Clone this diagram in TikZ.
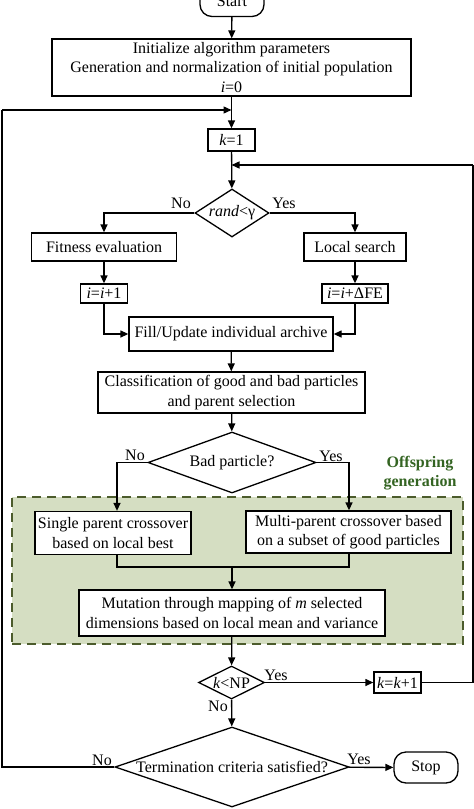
\documentclass[tikz,border=0pt]{standalone}
\usepackage{fontspec}
\setmainfont{Liberation Serif}
\usetikzlibrary{arrows.meta,shapes.geometric}
\definecolor{offfill}{RGB}{213,222,194}
\definecolor{offline}{RGB}{76,92,44}
\definecolor{offtext}{RGB}{52,100,34}
\begin{document}
\begin{tikzpicture}[x=1pt,y=-1pt,
  font=\fontsize{16}{19.5}\selectfont,
  line width=1.3pt,
  box/.style={draw, fill=white, align=center, inner sep=0pt},
  rbox/.style={draw, fill=white, rounded corners=12pt, inner sep=0pt},
  dia/.style={draw, diamond, inner sep=0pt, fill=white},
  dtext/.style={inner sep=0pt, align=center},
  lbl/.style={inner sep=0pt},
  arr/.style={-{Triangle[length=8pt,width=7pt]}}]
\path[use as bounding box, clip] (0,0) rectangle (474,809);

% green region
\node[draw=offline, fill=offfill, dash pattern=on 9pt off 6pt, line width=2.2pt,
      minimum width=451, minimum height=147, inner sep=0pt] (grp) at (237.5,570.5) {};
\node[lbl, text=offtext, align=center, font=\fontsize{16}{19.5}\selectfont\bfseries] (grplbl) at (420,473) {Offspring\\generation};

% nodes
\node[rbox, minimum width=64, minimum height=31] (start) at (232,1) {Start};
\node[box, minimum width=359, minimum height=57] (init) at (231.5,67.5)
  {Initialize algorithm parameters\\Generation and normalization of initial population\\\textit{i}=0};
\node[box, minimum width=47, minimum height=22] (k1) at (231.5,140) {\textit{k}=1};
\node[dia, minimum width=74, minimum height=48] (rand) at (232,213) {};
\node[dtext] (randt) at (rand) {\textit{rand}<γ};
\node[box, minimum width=145, minimum height=28] (fit) at (104,247) {Fitness evaluation};
\node[box, minimum width=102, minimum height=28] (ls) at (355,247) {Local search};
\node[box, minimum width=47, minimum height=19] (ii1) at (104,293.5) {\textit{i}=\textit{i}+1};
\node[box, minimum width=66, minimum height=19] (ife) at (355,293.5) {\textit{i}=\textit{i}+ΔFE};
\node[box, minimum width=204, minimum height=34] (fill) at (231,334) {Fill/Update individual archive};
\node[box, minimum width=267, minimum height=41] (cls) at (231.5,392.5)
  {Classification of good and bad particles\\and parent selection};
\node[dia, minimum width=168, minimum height=61] (bad) at (232,462.5) {};
\node[dtext] (badt) at (bad) {Bad particle?};
\node[box, minimum width=156, minimum height=43] (single) at (113,533)
  {Single parent crossover\\based on local best};
\node[box, minimum width=205, minimum height=42] (multi) at (348.5,532)
  {Multi-parent crossover based\\on a subset of good particles};
\node[box, minimum width=306, minimum height=46] (mut) at (232,613)
  {Mutation through mapping of \textit{m} selected\\dimensions based on local mean and variance};
\node[dia, minimum width=66, minimum height=33] (knp) at (231.5,682.5) {};
\node[dtext] (knpt) at (knp) {\textit{k}<NP};
\node[box, minimum width=47, minimum height=21] (kk1) at (397.5,682.5) {\textit{k}=\textit{k}+1};
\node[dia, minimum width=234, minimum height=80] (term) at (232,767) {};
\node[dtext] (termt) at (term) {Termination criteria satisfied?};
\node[rbox, minimum width=64, minimum height=31] (stop) at (426,767.5) {Stop};

% helper coordinates
\coordinate (lx) at (2,0);
\coordinate (rx) at (473,0);
\coordinate (j1) at (231.5,110);
\coordinate (j2) at (231.5,165);
\coordinate (sx) at (117,0);
\coordinate (mx) at (349,0);
\coordinate (mrg) at (232,567);

% connectors
\draw[arr] (start) -- (init);
\draw[arr] (init) -- (k1);
\draw[arr] (k1) -- (rand);
\draw[arr] (rand.west) -| (fit.north);
\draw[arr] (rand.east) -| (ls.north);
\draw[arr] (fit) -- (ii1);
\draw[arr] (ls) -- (ife);
\draw[arr] (ii1.south) |- (fill.west);
\draw[arr] (ife.south) |- (fill.east);
\draw[arr] (fill) -- (cls);
\draw[arr] (cls) -- (bad);
\draw[arr] (bad.west) -| (single.north -| sx);
\draw[arr] (bad.east) -| (multi.north -| mx);
\draw (single.south -| sx) |- (mrg) -| (multi.south -| mx);
\draw[arr] (mrg) -- (mut.north);
\draw[arr] (mut) -- (knp);
\draw[arr] (knp) -- (kk1);
\draw (kk1.east) -| (rx |- j2);
\draw[arr] (rx |- j2) -- (j2);
\draw[arr] (knp) -- (term);
\draw[arr] (term) -- (stop);
\draw (term.west) -| (lx |- j1);
\draw[arr] (lx |- j1) -- (j1);

% branch labels
\node[lbl] (rno) at (181,203) {No};
\node[lbl] (ryes) at (284,203) {Yes};
\node[lbl] (bno) at (135,455) {No};
\node[lbl] (byes) at (331,456) {Yes};
\node[lbl] (kyes) at (276,675) {Yes};
\node[lbl] (kno) at (218,706) {No};
\node[lbl] (tno) at (102,760) {No};
\node[lbl] (tyes) at (359,759) {Yes};
\end{tikzpicture}
\end{document}
